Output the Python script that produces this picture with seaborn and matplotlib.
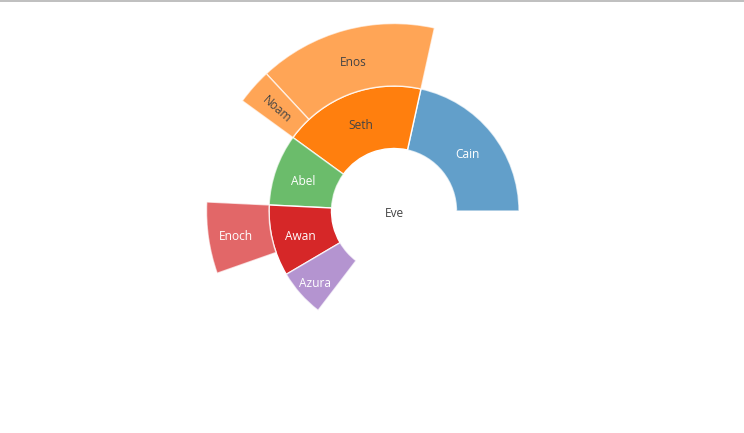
import numpy as np
import seaborn as sns
import matplotlib.pyplot as plt
from matplotlib.lines import Line2D
from matplotlib.transforms import offset_copy

sns.set_style("white")
plt.rcParams['font.family'] = ['Open Sans', 'DejaVu Sans']

# sunburst data (branchvalues = total)
labels = ["Eve", "Cain", "Seth", "Enos", "Noam", "Abel", "Awan", "Enoch", "Azura"]
parents = ["", "Eve", "Eve", "Seth", "Seth", "Eve", "Eve", "Awan", "Eve"]
values = [65, 14, 12, 10, 2, 6, 6, 4, 4]

pal = sns.color_palette("tab10")

W, H = 744, 433
cx, cy = 394, 211          # centre in px
ring = 62.5                # ring thickness in px
R = 3 * ring

fig = plt.figure(figsize=(W / 100, H / 100), dpi=100)
fig.add_artist(Line2D([0, 1], [1 - 0.5 / H, 1 - 0.5 / H], color="#b4b4b4", lw=1.2))
ax = fig.add_axes([(cx - R) / W, (H - cy - R) / H, 2 * R / W, 2 * R / H],
                  projection="polar")
ax.set_ylim(0, R)
ax.axis("off")

# text a touch lower, like plotly's baseline placement
tr = offset_copy(ax.transData, fig=fig, x=0, y=-1.6, units="points")

val = dict(zip(labels, values))
kids = {}
for lab, par in zip(labels, parents):
    kids.setdefault(par, []).append(lab)

root = kids[""][0]
unit = 2 * np.pi / val[root]


def draw(node, start, depth, color):
    children = sorted(kids.get(node, []), key=lambda k: -val[k])
    t = start
    for i, ch in enumerate(children):
        c = pal[i] if node == root else color
        leaf = ch not in kids
        w = val[ch] * unit
        ax.bar(t, ring, width=w, bottom=depth * ring, align="edge",
               color=c, alpha=0.7 if leaf else 1.0,
               edgecolor="white", linewidth=1)
        mid = t + w / 2
        rmid = depth * ring + ring / 2
        if ch == "Azura":
            rmid += 12     # plotly pushes narrow label outward
        elif ch in ("Awan", "Abel", "Enoch"):
            rmid += 3
        tc = "#444444" if ch in ("Seth", "Enos", "Noam") else "white"
        rot = 0
        if ch == "Noam":
            rot = np.degrees(mid) - 180
        ax.text(mid, rmid, ch, ha="center", va="center", fontsize=8.6,
                color=tc, rotation=rot, rotation_mode="anchor", transform=tr)
        draw(ch, t, depth + 1, c)
        t += w


draw(root, 0.0, 1, None)
ax.text(0, 0, root, ha="center", va="center", fontsize=8.6, color="#444444",
        transform=tr)

fig.savefig("out.png", dpi=100)
